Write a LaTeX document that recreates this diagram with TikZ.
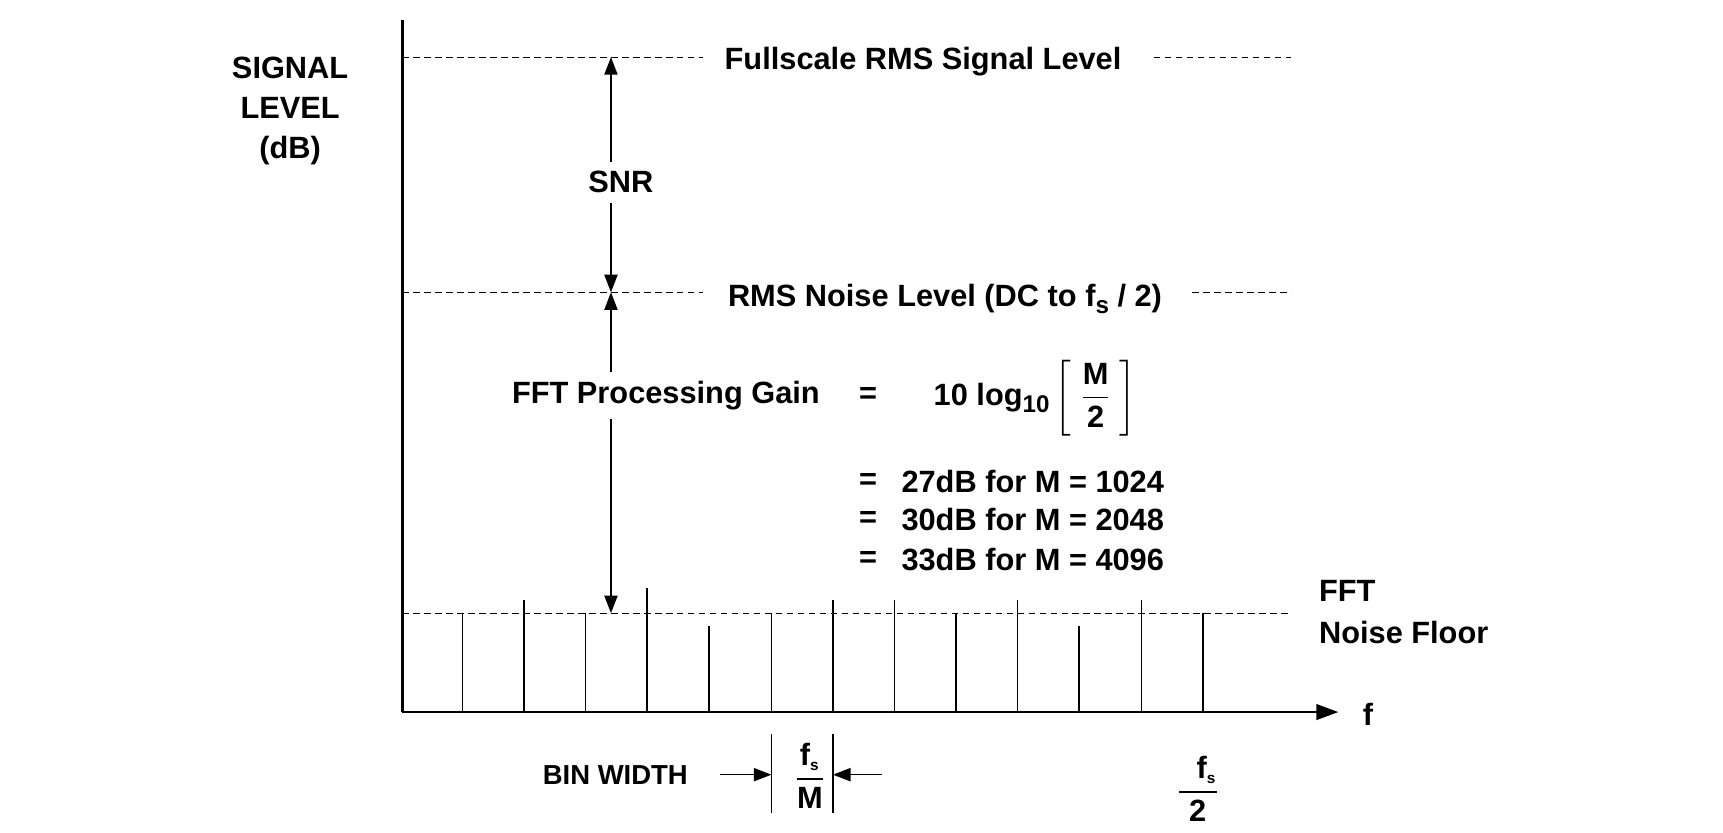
\documentclass[tikz,border=0pt]{standalone}
\usepackage{amsmath}
\usepackage{fontspec}
\setmainfont{Liberation Sans}
\usetikzlibrary{arrows.meta}
\newcommand{\bt}[1]{\text{\bfseries #1}}
\newcommand{\fsub}{\bt{f}_{\bt{\scriptsize s}}}
\begin{document}
\begin{tikzpicture}[x=0.5pt,y=-0.5pt,
  lbl/.style={font=\fontsize{14}{17}\selectfont\bfseries, inner sep=1pt},
  dline/.style={dashed, dash pattern=on 3pt off 2pt, line width=0.5pt},
  stem/.style={line width=0.7pt},
  arr/.style={-{Triangle[length=8pt,width=6pt]}, line width=0.7pt}]
\useasboundingbox (0,0) rectangle (1568,758);
% axes
\coordinate (o) at (366,648);
\coordinate (ytop) at (366,18);
\coordinate (xend) at (1218,648);
\draw[line width=1.2pt] (ytop) -- (o);
\draw[line width=1.2pt,-{Triangle[length=10pt,width=7pt]}] (o) -- (xend);
\node[lbl] (f) at (1245,650) {f};
\node[lbl, align=center] (sl) at (264,101) {SIGNAL\\[1pt]LEVEL\\[1pt](dB)};
% levels
\node[lbl] (full) at (840,56) {Fullscale RMS Signal Level};
\node[lbl] (rms) at (860,272) {RMS Noise Level (DC to f\raisebox{-3pt}{\fontsize{11}{13}\selectfont s} / 2)};
\coordinate (a1) at (366,52); \coordinate (a2) at (1175,52);
\coordinate (b1) at (366,266); \coordinate (b2) at (1175,266);
\coordinate (c1) at (366,558); \coordinate (c2) at (1175,558);
\draw[dline] (a1) -- (640,52); \draw[dline] (1050,52) -- (a2);
\draw[dline] (b1) -- (640,266); \draw[dline] (1085,266) -- (b2);
\draw[dline] (c1) -- (c2);
\node[lbl, align=left, anchor=west] (nf) at (1198,557) {FFT\\[2pt]Noise Floor};
% SNR arrows
\coordinate (s1) at (556,52); \coordinate (s2) at (556,266); \coordinate (s3) at (556,558);
\node[lbl, fill=white, inner sep=4pt] (snr) at (565,166) {SNR};
\node[lbl, fill=white, inner sep=4pt] (pg) at (606,360) {FFT Processing Gain};
\draw[arr] (snr.north -| s1) -- (s1);
\draw[arr] (snr.south -| s1) -- (s2);
\draw[arr] (pg.north -| s1) -- (s2);
\draw[arr] (pg.south -| s1) -- (s3);
% equation
\node[lbl] (eq0) at (790,360) {=};
\node[lbl] (eq) at (942,362) {10 log\raisebox{-3pt}{\fontsize{11}{13}\selectfont 10}\,$\left[\;\dfrac{\bt{M}}{\bt{2}}\;\right]$};
\node[lbl] (e1) at (790,438) {=}; \node[lbl, anchor=west] (t1) at (818,438) {27dB for M = 1024};
\node[lbl] (e2) at (790,473) {=}; \node[lbl, anchor=west] (t2) at (818,473) {30dB for M = 2048};
\node[lbl] (e3) at (790,509) {=}; \node[lbl, anchor=west] (t3) at (818,509) {33dB for M = 4096};
% stems
\foreach \x/\t in {421/558,477/546,533/558,589/535,645/570,702/558,758/546,814/546,870/558,926/546,982/570,1039/546,1095/558}
  \draw[stem] (\x,648) -- (\x,\t);
% bin width
\node[lbl, font=\fontsize{12.5}{15}\selectfont\bfseries] (bw) at (560,705) {BIN WIDTH};
\coordinate (v1t) at (702,668); \coordinate (v1b) at (702,740);
\coordinate (v2t) at (758,668); \coordinate (v2b) at (758,740);
\draw[stem] (v1t) -- (v1b); \draw[stem] (v2t) -- (v2b);
\coordinate (la) at (655,705); \coordinate (ra) at (803,705);
\draw[arr] (la) -- (v1t |- la);
\draw[arr] (ra) -- (v2t |- ra);
\node[lbl] (fsm) at (737,706) {$\dfrac{\fsub}{\bt{M}}$};
\node[lbl] (fs2) at (1090,718) {$\dfrac{\;\;\fsub}{\bt{2}}$};
\end{tikzpicture}
\end{document}
